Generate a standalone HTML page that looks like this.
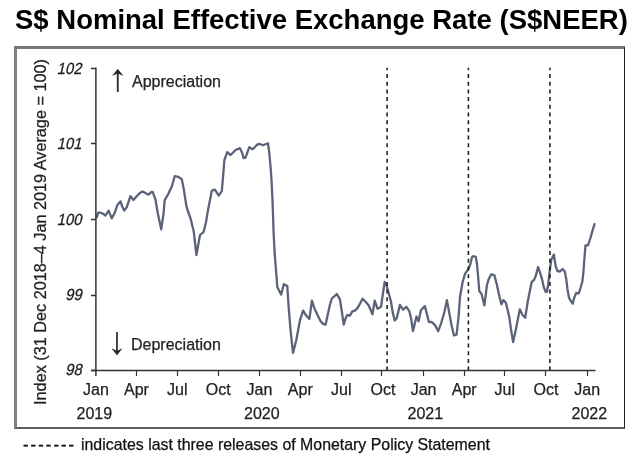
<!DOCTYPE html>
<html><head><meta charset="utf-8"><style>
html,body{margin:0;padding:0;background:#fff;}
body{width:642px;height:465px;position:relative;overflow:hidden;font-family:"Liberation Sans",Arial,sans-serif;}
.title{will-change:transform;position:absolute;left:15.3px;top:3px;font-weight:bold;font-size:27.5px;color:#000;white-space:nowrap;line-height:34px;}
.frame{position:absolute;left:14px;top:46px;width:607px;height:378px;border-left:3px solid #818181;border-top:3px solid #777;border-right:1.5px solid #222;border-bottom:2px solid #5e5e5e;}
svg{position:absolute;left:0;top:0;}
.foot{will-change:transform;-webkit-text-stroke:0.25px #111;position:absolute;left:81px;top:436px;font-size:15.9px;color:#111;white-space:nowrap;}
</style></head><body>
<div class="title">S$ Nominal Effective Exchange Rate (S$NEER)</div>
<div class="frame"></div>
<svg style="will-change:transform" width="642" height="465" viewBox="0 0 642 465">
<path d="M96.7,217.4 L98.2,212.7 L100.5,212.7 L103,213.7 L105.5,215.5 L108.6,210.6 L111.7,218.4 L114.8,212.7 L117.3,205 L120.6,201.4 L122.3,206.8 L124.2,210.6 L126.7,207.4 L130.4,196.2 L133.5,200 L136.7,196.2 L139.8,193.1 L142.6,191.5 L145.4,193.1 L148.5,194.7 L151.6,191.8 L152.7,191.8 L155.4,199.3 L157.9,213.7 L161.2,229.3 L163.5,214 L164.7,200 L168.1,194.3 L171.9,186.2 L174.7,176.2 L178.1,176.8 L181.8,179.3 L183.7,188.7 L186.2,205 L187.5,210 L190.6,218.7 L193.7,231.2 L196.4,255 L200,235 L203.7,231.8 L206.2,221.2 L208,210 L210,200 L211.8,190.6 L214.9,189.7 L218.7,195.6 L221.8,191.2 L223,177.5 L224.4,160 L227.2,152.2 L230.6,155 L235.6,150 L240,148.1 L242.5,153.7 L243.6,158.2 L245.5,157.6 L249.3,147.2 L252.7,149.3 L257.5,144.4 L260,144 L263.1,145.2 L268,143.3 L269.2,152 L270.6,167.4 L271.5,180 L272.5,200 L273.7,235 L274.7,253.7 L276.2,272.5 L277.3,287 L281.1,294.6 L283.9,284.2 L287.3,286.1 L288.7,307.9 L290.6,330.6 L293,353 L296.3,340 L300,320.2 L303.1,310.6 L306.2,315.6 L309.4,318.9 L311.9,300.6 L314.3,308.1 L317.5,314.9 L320.6,321.2 L323.1,323.9 L325.6,324.7 L327.4,316.2 L329.9,305 L331.8,298.5 L333.7,296.8 L336.8,294 L339.9,299.3 L341.8,311.2 L343.7,324.7 L345.5,318.7 L347.2,314.9 L349.9,315.6 L352.4,311.4 L354.9,310.6 L357.4,308.1 L360,303.7 L362.5,298.7 L365.6,301.8 L368.7,305.5 L372.5,314.3 L374.7,300.6 L377.5,308.7 L381,306.8 L382.7,295 L384.7,281.8 L386.2,284.3 L388.7,293.1 L390.9,301.2 L392.7,312.4 L394.7,320.5 L396.8,318 L399.9,304.9 L403,309.7 L406.4,306.8 L409.3,311.2 L411.1,318.6 L413,331 L416.5,316.5 L418.6,321.2 L420.9,310.3 L424.8,306.1 L426.8,313.6 L428.8,322 L431.8,322 L435.2,325.4 L438.2,331.2 L441,323.7 L444.4,312 L446.9,300.2 L449.4,313.6 L451.9,327 L454,335.4 L456.6,334.6 L458.7,315.3 L460,297 L462.6,282 L465.1,273.6 L467.6,270.4 L469.5,266.7 L470.9,262 L471.8,257.5 L473,256.2 L475.8,256.8 L477,264.3 L477.9,273.7 L479.3,291.2 L481.5,293.7 L484.4,305.4 L486.9,285.3 L488.6,279.4 L491.1,274.4 L494.4,275.2 L497,285.3 L499.5,297 L501.4,304.3 L503.4,300.1 L505.9,302.7 L509.3,316.9 L510.9,328.7 L513.1,342.1 L516,328.7 L519.8,309.4 L522.7,315.2 L525.2,317.8 L527.7,301.8 L530.2,289.2 L531.7,282.1 L534.2,279.6 L535.9,275.4 L538.1,267 L540.1,272.9 L541.9,278.7 L543.7,286.8 L545.6,291.8 L546.9,291.8 L548.1,285 L549.4,273.7 L551.2,260 L553.9,254.5 L555.6,266.2 L557.5,271 L560,271.5 L562.5,269 L564.7,271.2 L566.2,278.7 L567.4,288.7 L568.9,297.4 L570.9,301.2 L572.7,303.7 L574.3,297.4 L576.2,293 L578.7,293.4 L580.5,288 L582.4,281.2 L583.4,272.5 L584.3,260 L585.5,245.3 L588,245.3 L590.6,237.5 L592.5,230.6 L594.5,224.2" fill="none" stroke="#5b6379" stroke-width="2.3" stroke-linejoin="round" stroke-linecap="round"/>
<g stroke="#222" stroke-width="1.6" fill="none" stroke-dasharray="4 3.7" stroke-dashoffset="1.5"><line x1="387.1" y1="67.8" x2="387.1" y2="370"/><line x1="468.4" y1="67.8" x2="468.4" y2="370"/><line x1="549.9" y1="67.8" x2="549.9" y2="370"/></g>
<g stroke="#333" stroke-width="1.5" fill="none">
<line x1="95.9" y1="67.5" x2="95.9" y2="376"/>
<line x1="91" y1="370.5" x2="595.5" y2="370.5"/>
<line x1="136.5" y1="370" x2="136.5" y2="376" stroke-width="1.2"/><line x1="177.5" y1="370" x2="177.5" y2="376" stroke-width="1.2"/><line x1="218.5" y1="370" x2="218.5" y2="376" stroke-width="1.2"/><line x1="259.5" y1="370" x2="259.5" y2="376" stroke-width="1.2"/><line x1="300.5" y1="370" x2="300.5" y2="376" stroke-width="1.2"/><line x1="341.5" y1="370" x2="341.5" y2="376" stroke-width="1.2"/><line x1="381.5" y1="370" x2="381.5" y2="376" stroke-width="1.2"/><line x1="423.5" y1="370" x2="423.5" y2="376" stroke-width="1.2"/><line x1="464.5" y1="370" x2="464.5" y2="376" stroke-width="1.2"/><line x1="504.5" y1="370" x2="504.5" y2="376" stroke-width="1.2"/><line x1="545.5" y1="370" x2="545.5" y2="376" stroke-width="1.2"/><line x1="587.5" y1="370" x2="587.5" y2="376" stroke-width="1.2"/><line x1="91" y1="68.5" x2="96" y2="68.5"/><line x1="91" y1="143.5" x2="96" y2="143.5"/><line x1="91" y1="219.5" x2="96" y2="219.5"/><line x1="91" y1="295.5" x2="96" y2="295.5"/><line x1="91" y1="370.5" x2="96" y2="370.5"/>
</g>
<g font-family="Liberation Sans, Arial, sans-serif" text-anchor="end" fill="#222" stroke="#222" stroke-width="0.25"><text transform="translate(81.5,73.8) skewX(-12) scale(0.99,1.07)" font-size="15">102</text><text transform="translate(81.5,148.8) skewX(-12) scale(0.99,1.07)" font-size="15">101</text><text transform="translate(81.5,224.8) skewX(-12) scale(0.99,1.07)" font-size="15">100</text><text transform="translate(81.8,300.2) skewX(-12) scale(0.99,1.07)" font-size="15">99</text><text transform="translate(81.8,375.2) skewX(-12) scale(0.99,1.07)" font-size="15">98</text></g>
<g font-family="Liberation Sans, Arial, sans-serif" font-size="16" text-anchor="middle" fill="#222" stroke="#222" stroke-width="0.25"><text x="95.9" y="395">Jan</text><text x="136.5" y="395">Apr</text><text x="177.3" y="395">Jul</text><text x="218.3" y="395">Oct</text><text x="259.5" y="395">Jan</text><text x="300.3" y="395">Apr</text><text x="341.3" y="395">Jul</text><text x="382.9" y="395">Oct</text><text x="423.6" y="395">Jan</text><text x="464.2" y="395">Apr</text><text x="504.8" y="395">Jul</text><text x="545.9" y="395">Oct</text><text x="587.2" y="395">Jan</text><text x="94.3" y="419.3">2019</text><text x="261.8" y="419.3">2020</text><text x="425.3" y="419.3">2021</text><text x="589.3" y="419.3">2022</text></g>
<text transform="translate(45.8,232) rotate(-90)" text-anchor="middle" font-family="Liberation Sans, Arial, sans-serif" font-size="16.24" fill="#222" stroke="#222" stroke-width="0.25">Index (31 Dec 2018–4 Jan 2019 Average = 100)</text>
<text x="132" y="87.3" font-family="Liberation Sans, Arial, sans-serif" font-size="16" fill="#222" stroke="#222" stroke-width="0.25">Appreciation</text>
<text x="131" y="349.8" font-family="Liberation Sans, Arial, sans-serif" font-size="16" fill="#222" stroke="#222" stroke-width="0.25">Depreciation</text>
<text transform="translate(117.7,89.95) scale(0.315,0.263)" text-anchor="middle" font-family="WenQuanYi Zen Hei, sans-serif" font-size="100" fill="#222" stroke="#222" stroke-width="1.5">↑</text>
<text transform="translate(116.9,353.2) scale(0.315,0.263)" text-anchor="middle" font-family="WenQuanYi Zen Hei, sans-serif" font-size="100" fill="#222" stroke="#222" stroke-width="1.5">↓</text>
<text x="23" y="450" font-family="Liberation Sans, Arial, sans-serif" font-size="16.5" fill="#111" stroke="#111" stroke-width="0.35" letter-spacing="2.1">-------</text>
</svg>
<div class="foot">indicates last three releases of Monetary Policy Statement</div>
</body></html>
